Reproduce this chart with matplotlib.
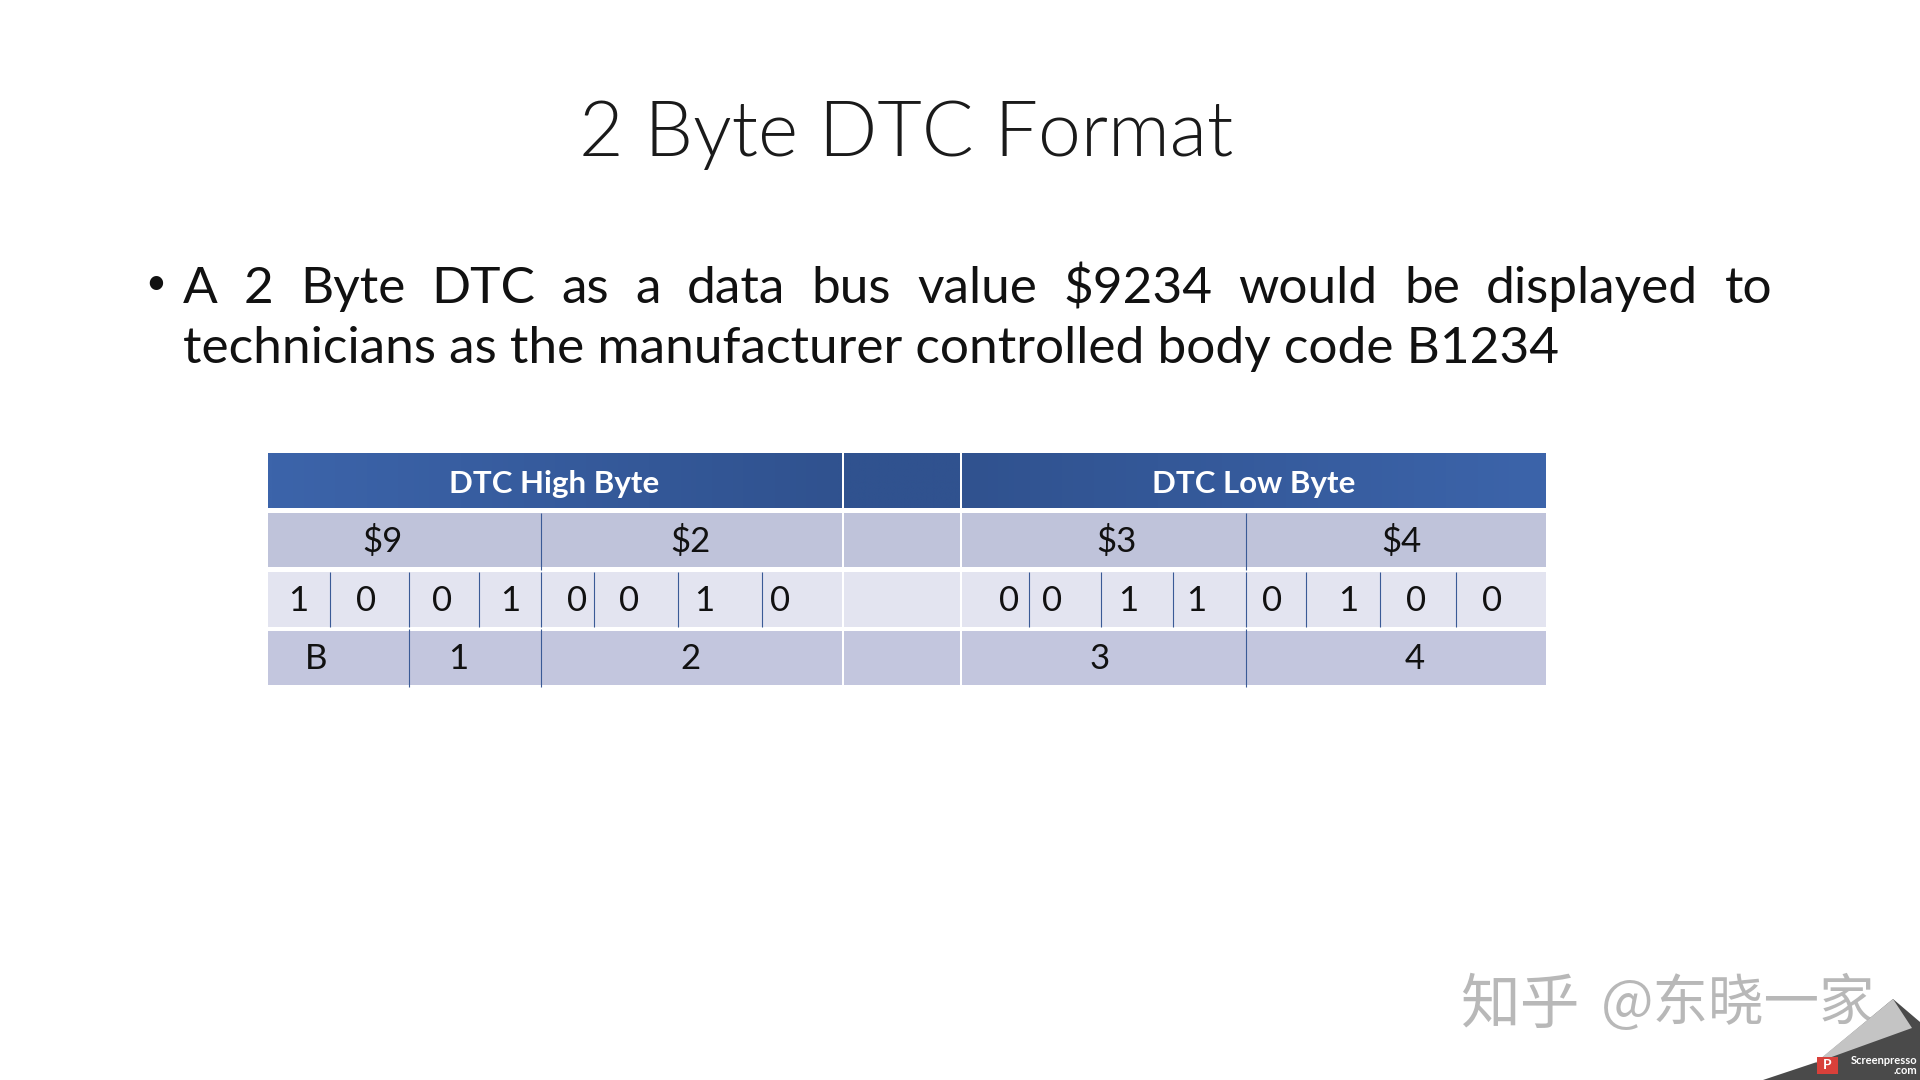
import numpy as np
import matplotlib.pyplot as plt
from matplotlib.colors import to_rgb
from matplotlib.patches import Polygon, Rectangle

plt.rcParams["font.family"] = ["Lato", "DejaVu Sans"]

title = "2 Byte DTC Format"
line1_words = "A 2 Byte DTC as a data bus value $9234 would be displayed to".split()
line2 = "technicians as the manufacturer controlled body code B1234"
header_labels = ["DTC High Byte", "DTC Low Byte"]
nibble_labels = ["$9", "$2", "$3", "$4"]
bit_labels = list("10010010") + list("00110100")
code_labels = ["B", "1", "2", "3", "4"]

# everything below is in image pixels
header_x = [554, 1254]
nibble_x = [382, 690, 1117, 1401]
bit_x = [298, 366, 442, 510, 577, 629, 704, 780, 1009, 1052, 1128, 1196, 1272, 1348, 1416, 1492]
code_x = [316, 458, 690, 1100, 1415]

col_edges = [(268, 842), (844, 960), (962, 1546)]
row_spans = [(453, 508), (513, 567), (572, 627), (631, 685)]
row_colors = [None, "#bfc3da", "#e3e4f0", "#c3c6de"]

nibble_lines = [541, 1246]
bit_lines = [330, 409, 479, 541, 594, 678, 762, 1029, 1101, 1173, 1246, 1306, 1380, 1456]
code_lines = [409, 541, 1246]


def draw_header(ax, x0, x1, c0, c1):
    t = np.linspace(0, 1, 64).reshape(1, -1, 1)
    c0 = np.array(to_rgb(c0)).reshape(1, 1, 3)
    c1 = np.array(to_rgb(c1)).reshape(1, 1, 3)
    img = c0 * (1 - t) + c1 * t
    y0, y1 = row_spans[0]
    ax.imshow(img, extent=[x0, x1, y1, y0], aspect="auto", zorder=1, interpolation="bilinear")


def put_justified(ax, words, left, right, y, size):
    items = [ax.text(0, y, w, fontsize=size, color="#111111", va="center", ha="left") for w in words]
    rend = ax.figure.canvas.get_renderer()
    widths = [i.get_window_extent(rend).width for i in items]
    gap = (right - left - sum(widths)) / (len(words) - 1)
    x = left
    for item, w in zip(items, widths):
        item.set_x(x)
        x += w + gap


fig = plt.figure(figsize=(19.2, 10.8), dpi=100, facecolor="white")
ax = fig.add_axes([0, 0, 1, 1])
ax.set_xlim(0, 1920)
ax.set_ylim(1080, 0)
ax.axis("off")

ax.text(906, 135, title, fontsize=55.4, fontweight=300, color="#1a1a1a", ha="center", va="center")

ax.text(156, 284, "•", fontsize=26, color="#111111", ha="center", va="center")
put_justified(ax, line1_words, 183, 1772, 289, 37)
ax.text(183, 349, line2, fontsize=37, color="#111111", ha="left", va="center")

# table background
draw_header(ax, 268, 842, "#3c64aa", "#30528f")
draw_header(ax, 844, 960, "#30528f", "#30528f")
draw_header(ax, 962, 1546, "#30528f", "#3c64aa")
for (y0, y1), color in zip(row_spans[1:], row_colors[1:]):
    for x0, x1 in col_edges:
        ax.add_patch(Rectangle((x0, y0), x1 - x0, y1 - y0, facecolor=color, edgecolor="none", zorder=1))

ax.vlines(nibble_lines, 513, 570, color="#3a5a96", lw=0.8, zorder=2)
ax.vlines(bit_lines, 572, 627, color="#3a5a96", lw=0.8, zorder=2)
ax.vlines(code_lines, 629, 687, color="#3a5a96", lw=0.8, zorder=2)

for x, s in zip(header_x, header_labels):
    ax.text(x, 484, s, fontsize=22.5, fontweight="bold", color="white", ha="center", va="center", zorder=3)
for x, s in zip(nibble_x, nibble_labels):
    ax.text(x, 542, s, fontsize=25, color="#111111", ha="center", va="center", zorder=3)
for x, s in zip(bit_x, bit_labels):
    ax.text(x, 601, s, fontsize=25, color="#111111", ha="center", va="center", zorder=3)
for x, s in zip(code_x, code_labels):
    ax.text(x, 659, s, fontsize=25, color="#111111", ha="center", va="center", zorder=3)

# watermark
cjk = ["Noto Sans CJK SC", "DejaVu Sans"]
ax.text(1460, 1006, "知乎", fontsize=43, color="#b8b8b8", family=cjk, ha="left", va="center", zorder=4)
ax.text(1601, 1004, "@东晓一家", fontsize=40, color="#b8b8b8", family=cjk, ha="left", va="center", zorder=4)

# page curl in the corner
ax.add_patch(Polygon([(1763, 1080), (1817, 1062), (1893, 999), (1920, 1022), (1920, 1080)],
                     facecolor="#4a4a4a", edgecolor="none", zorder=5))
ax.add_patch(Polygon([(1815, 1063), (1893, 999), (1912, 1028)],
                     facecolor="#c4c4c4", edgecolor="none", zorder=6))
ax.add_patch(Rectangle((1817, 1057), 21, 17, facecolor="#d8403a", edgecolor="none", zorder=7))
ax.text(1827, 1065, "P", fontsize=10, fontweight="bold", color="white", ha="center", va="center", zorder=8)
ax.text(1917, 1060, "Screenpresso", fontsize=8, fontweight="bold", color="white", ha="right", va="center", zorder=8)
ax.text(1917, 1070, ".com", fontsize=8, fontweight="bold", color="white", ha="right", va="center", zorder=8)

fig.savefig("out.png", dpi=100)
